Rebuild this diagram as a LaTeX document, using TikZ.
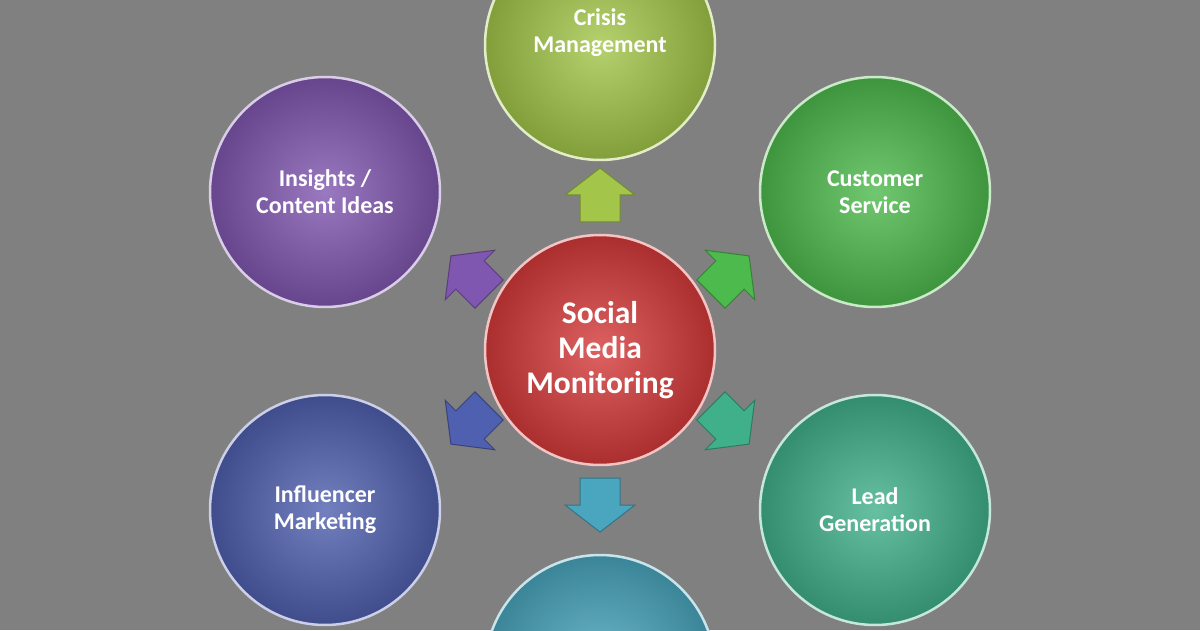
\documentclass[tikz,border=0pt]{standalone}
\usepackage{fontspec}
\setmainfont{Carlito}
\usetikzlibrary{shadows}
\definecolor{bg}{HTML}{808080}
\definecolor{cred}{HTML}{D63A3A}
\definecolor{cyel}{HTML}{A3C64A}
\definecolor{cgrn}{HTML}{4DBA4D}
\definecolor{clead}{HTML}{40B08A}
\definecolor{cteal}{HTML}{4AA6BE}
\definecolor{cblue}{HTML}{5060B0}
\definecolor{cpur}{HTML}{8057B0}
\tikzset{
 ball/.style={circle,minimum size=230pt,inner sep=0pt,draw=white!70!#1,line width=2.5pt,
   inner color=#1!80!white,outer color=#1!80!black,text=white,font=\bfseries\fontsize{24}{27}\selectfont,align=center,
   drop shadow={shadow xshift=3pt,shadow yshift=-4pt,opacity=0.6}},
 lbl/.style={text=white,font=\bfseries\fontsize{24}{27}\selectfont,align=center},
 barrow/.style={fill=#1,draw=#1!70!black,line width=1pt,
   drop shadow={shadow xshift=2pt,shadow yshift=-3pt,opacity=0.6}},
 pics/blockarrow/.style={code={\path[barrow=#1] (-27,-20) -- (0,-20) -- (0,-35) -- (27,0) -- (0,35) -- (0,20) -- (-27,20) -- cycle;}},
}
\begin{document}
\begin{tikzpicture}[x=1pt,y=1pt]
\fill[bg] (0,0) rectangle (1200,630);
\clip (0,0) rectangle (1200,630);
\useasboundingbox (0,0) rectangle (1200,630);
\node[ball=cyel] (top) at (600,585) {};
\node[lbl] (topt) at (600,597) {Crisis\\Management};
\node[ball=cpur] (ins) at (325,438) {Insights /\\Content Ideas};
\node[ball=cgrn] (cs) at (875,438) {Customer\\Service};
\node[ball=cblue] (inf) at (325,120) {Influencer\\Marketing};
\node[ball=clead] (lead) at (875,120) {Lead\\Generation};
\node[ball=cteal] (bot) at (600,-40) {};
\node[ball=cred,font=\bfseries\fontsize{31.5}{35}\selectfont] (c) at (600,280) {Social\\Media\\Monitoring};
\pic[rotate=90] at (600,435) {blockarrow=cyel};
\pic[rotate=45] at (730,355) {blockarrow=cgrn};
\pic[rotate=-45] at (730,205) {blockarrow=clead};
\pic[rotate=-90] at (600,125) {blockarrow=cteal};
\pic[rotate=-135] at (470,205) {blockarrow=cblue};
\pic[rotate=135] at (470,355) {blockarrow=cpur};
\end{tikzpicture}
\end{document}
